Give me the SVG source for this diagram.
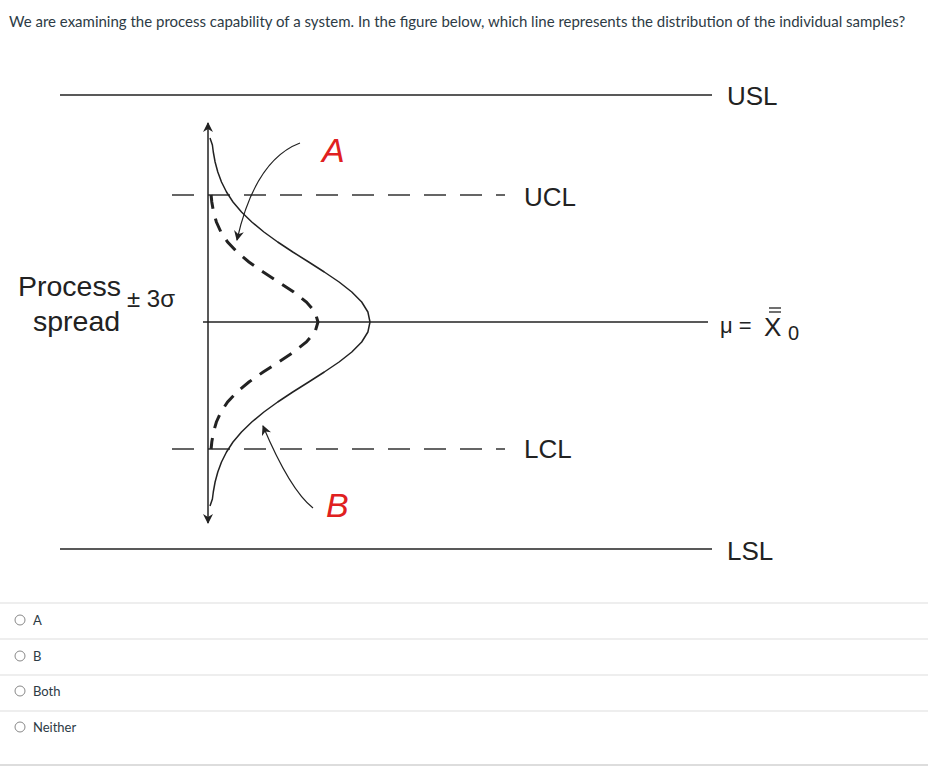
<svg xmlns="http://www.w3.org/2000/svg" width="928" height="784" viewBox="0 0 928 784">
<defs>
<marker id="ah" viewBox="0 0 10 10" refX="9" refY="5" markerWidth="10" markerHeight="10" orient="auto-start-reverse" markerUnits="userSpaceOnUse"><path d="M0,0 L10,5 L0,10 L3,5 z" fill="#222"/></marker>
<style>
.q{font-family:Lato,"Liberation Sans",sans-serif;font-size:15px;fill:#2d3b45}
.lb{font-family:"Liberation Sans",Arial,sans-serif;font-size:26px;fill:#222}
.ln{stroke:#222;stroke-width:1.5;fill:none;stroke-linejoin:round}
.dl{stroke:#333;stroke-width:1.5;stroke-dasharray:22 14;fill:none}
.sep{stroke:#ddd;stroke-width:1}
.rad{fill:#fff;stroke:#888;stroke-width:1}
.red{font-family:"Liberation Sans",sans-serif;font-size:34px;fill:#e02020;font-style:italic}
</style>
</defs>
<rect width="928" height="784" fill="#fff"/>
<text class="q" x="9" y="27">We are examining the process capability of a system. In the figure below, which line represents the distribution of the individual samples?</text>
<g id="limits">
<line class="ln" x1="60" y1="95" x2="712" y2="95"/>
<text class="lb" x="727" y="105">USL</text>
<line class="ln" x1="60" y1="549" x2="712" y2="549"/>
<text class="lb" x="727" y="560">LSL</text>
<line class="dl" x1="172" y1="195" x2="505" y2="195"/>
<text class="lb" x="524" y="206">UCL</text>
<line class="dl" x1="172" y1="449" x2="505" y2="449"/>
<text class="lb" x="524" y="458">LCL</text>
<line class="ln" x1="203" y1="322" x2="708" y2="322"/>
<text class="lb" x="720" y="333" style="font-size:22px">μ = </text>
<text class="lb" x="764" y="336" style="font-size:26px">X</text>
<line x1="769" y1="308" x2="781" y2="308" stroke="#222" stroke-width="1.3"/><line x1="769" y1="312" x2="781" y2="312" stroke="#222" stroke-width="1.3"/>
<text class="lb" x="788" y="340" style="font-size:20px">0</text>
</g>
<g id="axis">
<line class="ln" x1="208" y1="322" x2="208" y2="123" marker-end="url(#ah)"/>
<line class="ln" x1="208" y1="322" x2="208" y2="523" marker-end="url(#ah)"/>
</g>
<g id="labels">
<text class="lb" x="18" y="296" style="font-size:28.5px">Process</text>
<text class="lb" x="33" y="331" style="font-size:28.5px">spread</text>
<text class="lb" x="127" y="307" style="font-size:24px">± 3σ</text>
</g>
<g id="curveB">
<polyline class="ln" points="210,138 212.4,145 213.3,152 215.1,162 217.8,172 221.5,182 226.5,192 233,202 241.5,212 251.8,222 263.9,232 277.7,242 292.8,252 308.7,262 324.3,272 339.1,282 351.8,292 361.7,302 367.9,312 370,322 367.9,332 361.7,342 351.8,352 339.1,362 324.3,372 308.7,382 292.8,392 277.7,402 263.9,412 251.8,422 241.5,432 233,442 226.5,452 221.5,462 217.8,472 215.1,482 213.3,492 212.4,499 210,506"/>
</g>
<g id="curveA">
<polyline points="211.1,195 211.8,202 213.5,212 216.4,222 220.9,232 227.6,242 236.9,252 248.9,262 263.2,272 278.6,282 293.7,292 306.4,302 315,312 318,322 315,332 306.4,342 293.7,352 278.6,362 263.2,372 248.9,382 236.9,392 227.6,402 220.9,412 216.4,422 213.5,432 211.8,442 211.1,449" fill="none" stroke="#222" stroke-width="3" stroke-dasharray="14 10"/>
</g>
<g id="connectors">
<path class="ln" d="M300,143 Q255,160 237,240" marker-end="url(#ah)" style="stroke-width:1.2"/>
<path class="ln" d="M313,508 Q290,490 263,426" marker-end="url(#ah)" style="stroke-width:1.2"/>
</g>
<g id="A"><text class="red" x="322" y="162">A</text></g>
<g id="B"><text class="red" x="326" y="517">B</text></g>
<g id="options">
<line class="sep" x1="0" y1="603" x2="928" y2="603"/>
<line class="sep" x1="0" y1="639" x2="928" y2="639"/>
<line class="sep" x1="0" y1="675" x2="928" y2="675"/>
<line class="sep" x1="0" y1="711" x2="928" y2="711"/>
<line x1="0" y1="765" x2="928" y2="765" stroke="#bbb"/>
<circle class="rad" cx="20" cy="620" r="5"/><text class="q" x="33" y="625" style="font-size:13px">A</text>
<circle class="rad" cx="20" cy="656" r="5"/><text class="q" x="33" y="661" style="font-size:13px">B</text>
<circle class="rad" cx="20" cy="691" r="5"/><text class="q" x="33" y="696" style="font-size:13px">Both</text>
<circle class="rad" cx="20" cy="727" r="5"/><text class="q" x="33" y="732" style="font-size:13px">Neither</text>
</g>
</svg>
